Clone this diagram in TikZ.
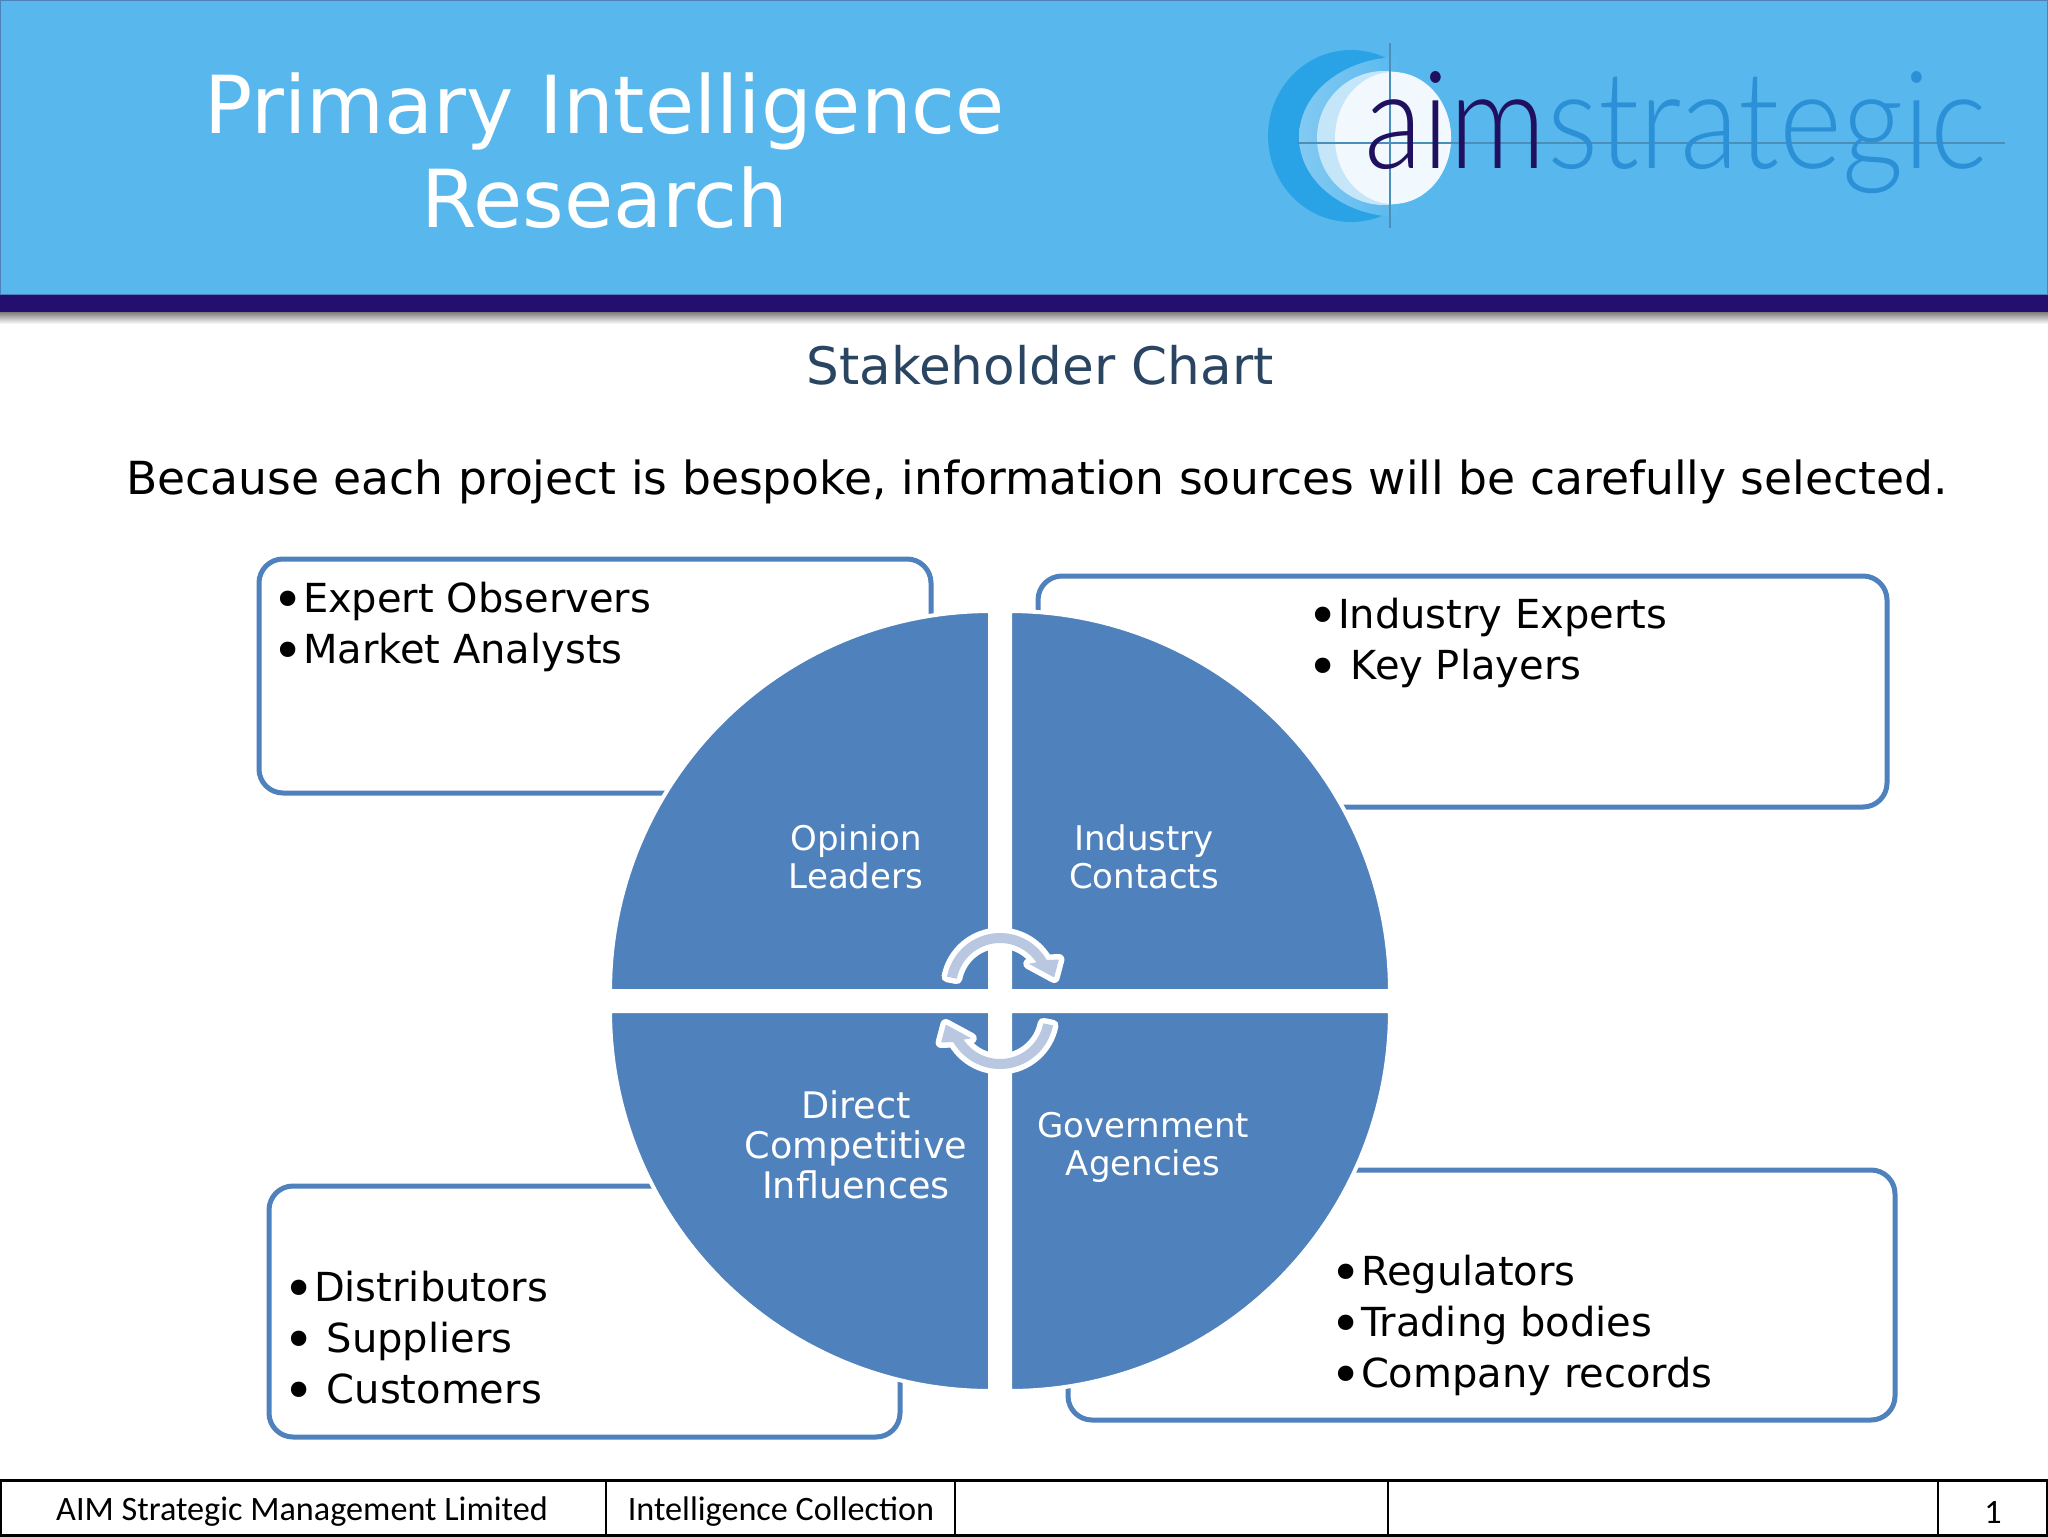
\documentclass[tikz,border=0pt]{standalone}
\usepackage{fontspec}
\setmainfont{DejaVu Sans}
\newfontfamily\footfont{Carlito}
\newfontfamily\logofont{Lato Light}
\definecolor{headblue}{HTML}{58B8EE}
\definecolor{bandblue}{HTML}{240F6E}
\definecolor{pieblue}{HTML}{4F81BD}
\definecolor{cyclefill}{HTML}{B9C7E1}
\definecolor{subtitle}{HTML}{2A4562}
\definecolor{logodark}{HTML}{1F1060}
\definecolor{logoblue}{HTML}{2C90D6}
\definecolor{logocyan}{HTML}{2AA3E6}
\definecolor{logoline}{HTML}{4A8FB8}
\newcommand{\lbul}{\makebox[11.8pt][l]{\hspace{-3.4pt}\raisebox{-2.9pt}{\fontsize{26.5}{26.5}\selectfont •}}}
\begin{document}
\begin{tikzpicture}[x=0.5pt,y=-0.5pt,line join=round]
	\tikzset{
		listbox/.style={draw=pieblue,line width=2.5pt,fill=white,rounded corners=12pt},
		pieslice/.style={fill=pieblue,draw=white,line width=2pt},
		cyclearrow/.style={fill=cyclefill,preaction={draw=white,line width=5.5pt}},
		pielabel/.style={text=white,align=center,inner sep=0pt},
		listtext/.style={anchor=north west,align=left,inner sep=0pt,font=\fontsize{20}{25.5}\selectfont},
		foottext/.style={font=\footfont\fontsize{17.1}{19}\selectfont,inner sep=0pt},
		logotext/.style={anchor=base west,inner sep=0pt,xscale=0.885,font=\logofont\fontsize{68}{68}\selectfont}
	}
	\useasboundingbox (0,0) rectangle (2048,1536);
	\fill [white] (0,0) rectangle (2048,1536);
	\shade [top color=black!55,bottom color=white] (0,311) rectangle (2048,324);
	\draw [draw=pieblue,line width=1pt,fill=headblue] (0,0) rectangle (2048,295);
	\fill [bandblue] (0,295) rectangle (2048,312);
	\fill [logocyan] (1351,136) ellipse [x radius=83,y radius=86];
	\shade [left color=headblue!75!white,right color=headblue,middle color=headblue] (1400,137) ellipse [x radius=101,y radius=80];
	\fill [headblue!35!white] (1384,138) ellipse [x radius=67,y radius=67];
	\fill [white!92!headblue] (1393,138) ellipse [x radius=58,y radius=66];
	\draw [logoline,line width=0.6pt] (1390,43)--(1390,228);
	\draw [logoline,line width=0.6pt] (1297,143)--(2005,143);
	\path
	(1364,168) node[logotext,text=logodark] (logoaim) {aim}
	(logoaim.base east) node[logotext,text=logoblue] (logostrategic) {strategic}
	(605,151) node[text=white,align=center,font=\fontsize{40}{47}\selectfont] (title) {Primary Intelligence\\Research}
	(1040,365) node[text=subtitle,font=\fontsize{25.8}{30}\selectfont] (subhead) {Stakeholder Chart}
	(1037,482) node[font=\fontsize{22.8}{28}\selectfont] (intro) {Because each project is bespoke, information sources will be carefully selected.}
	;
	\draw [listbox] (259,559) rectangle (931,793);
	\draw [listbox] (1038,576) rectangle (1887,807);
	\draw [listbox] (269,1186) rectangle (900,1437);
	\draw [listbox] (1068,1170) rectangle (1895,1420);
	\foreach \cx/\cy/\sa/\ea in {990/991/180/270,1010/991/270/360,1010/1011/0/90,990/1011/90/180}{
		\draw [pieslice] (\cx,\cy) -- plot[domain=\sa:\ea,samples=60] ({\cx+380*cos(\x)},{\cy+380*sin(\x)}) -- cycle;
	}
	\foreach \r in {0,180}{
		\begin{scope}[shift={(1000,1001)},rotate=\r,yshift=7pt]
			\path [cyclearrow] plot[domain=191:330,samples=30] (\x:54) -- (335:65) -- (350:55) -- (321:37) -- (326:44) -- plot[domain=326:191,samples=30] (\x:44) -- cycle;
		\end{scope}
	}
	\path
	(856,857) node[pielabel,font=\fontsize{17}{19}\selectfont] (opinion) {Opinion\\Leaders}
	(1144,857) node[pielabel,font=\fontsize{17}{19}\selectfont] (industry) {Industry\\Contacts}
	(856,1145) node[pielabel,font=\fontsize{18.3}{20}\selectfont] (direct) {Direct\\Competitive\\Influences}
	(1143,1147) node[pielabel,font=\fontsize{17}{19}\selectfont] (govt) {Government\\Agencies}
	(279,582) node[listtext] (observers) {\lbul Expert Observers\\\lbul Market Analysts}
	(1314,598) node[listtext] (experts) {\lbul Industry Experts\\\lbul\ Key Players}
	(290,1271) node[listtext] (distrib) {\lbul Distributors\\\lbul\ Suppliers\\\lbul\ Customers}
	(1337,1255) node[listtext] (regul) {\lbul Regulators\\\lbul Trading bodies\\\lbul Company records}
	;
	\draw [line width=1.5pt] (0,1480) -- (2048,1480);
	\draw [line width=1.5pt] (0,1535) -- (2048,1535);
	\foreach \x in {1,606,955,1388,1938,2047}{
		\draw [line width=1.2pt] (\x,1480) -- (\x,1535);
	}
	\path
	(302,1512) node[foottext] (company) {AIM Strategic Management Limited}
	(781,1512) node[foottext] (section) {Intelligence Collection}
	(1993,1512) node[foottext] (pagenum) {1}
	;
\end{tikzpicture}
\end{document}
